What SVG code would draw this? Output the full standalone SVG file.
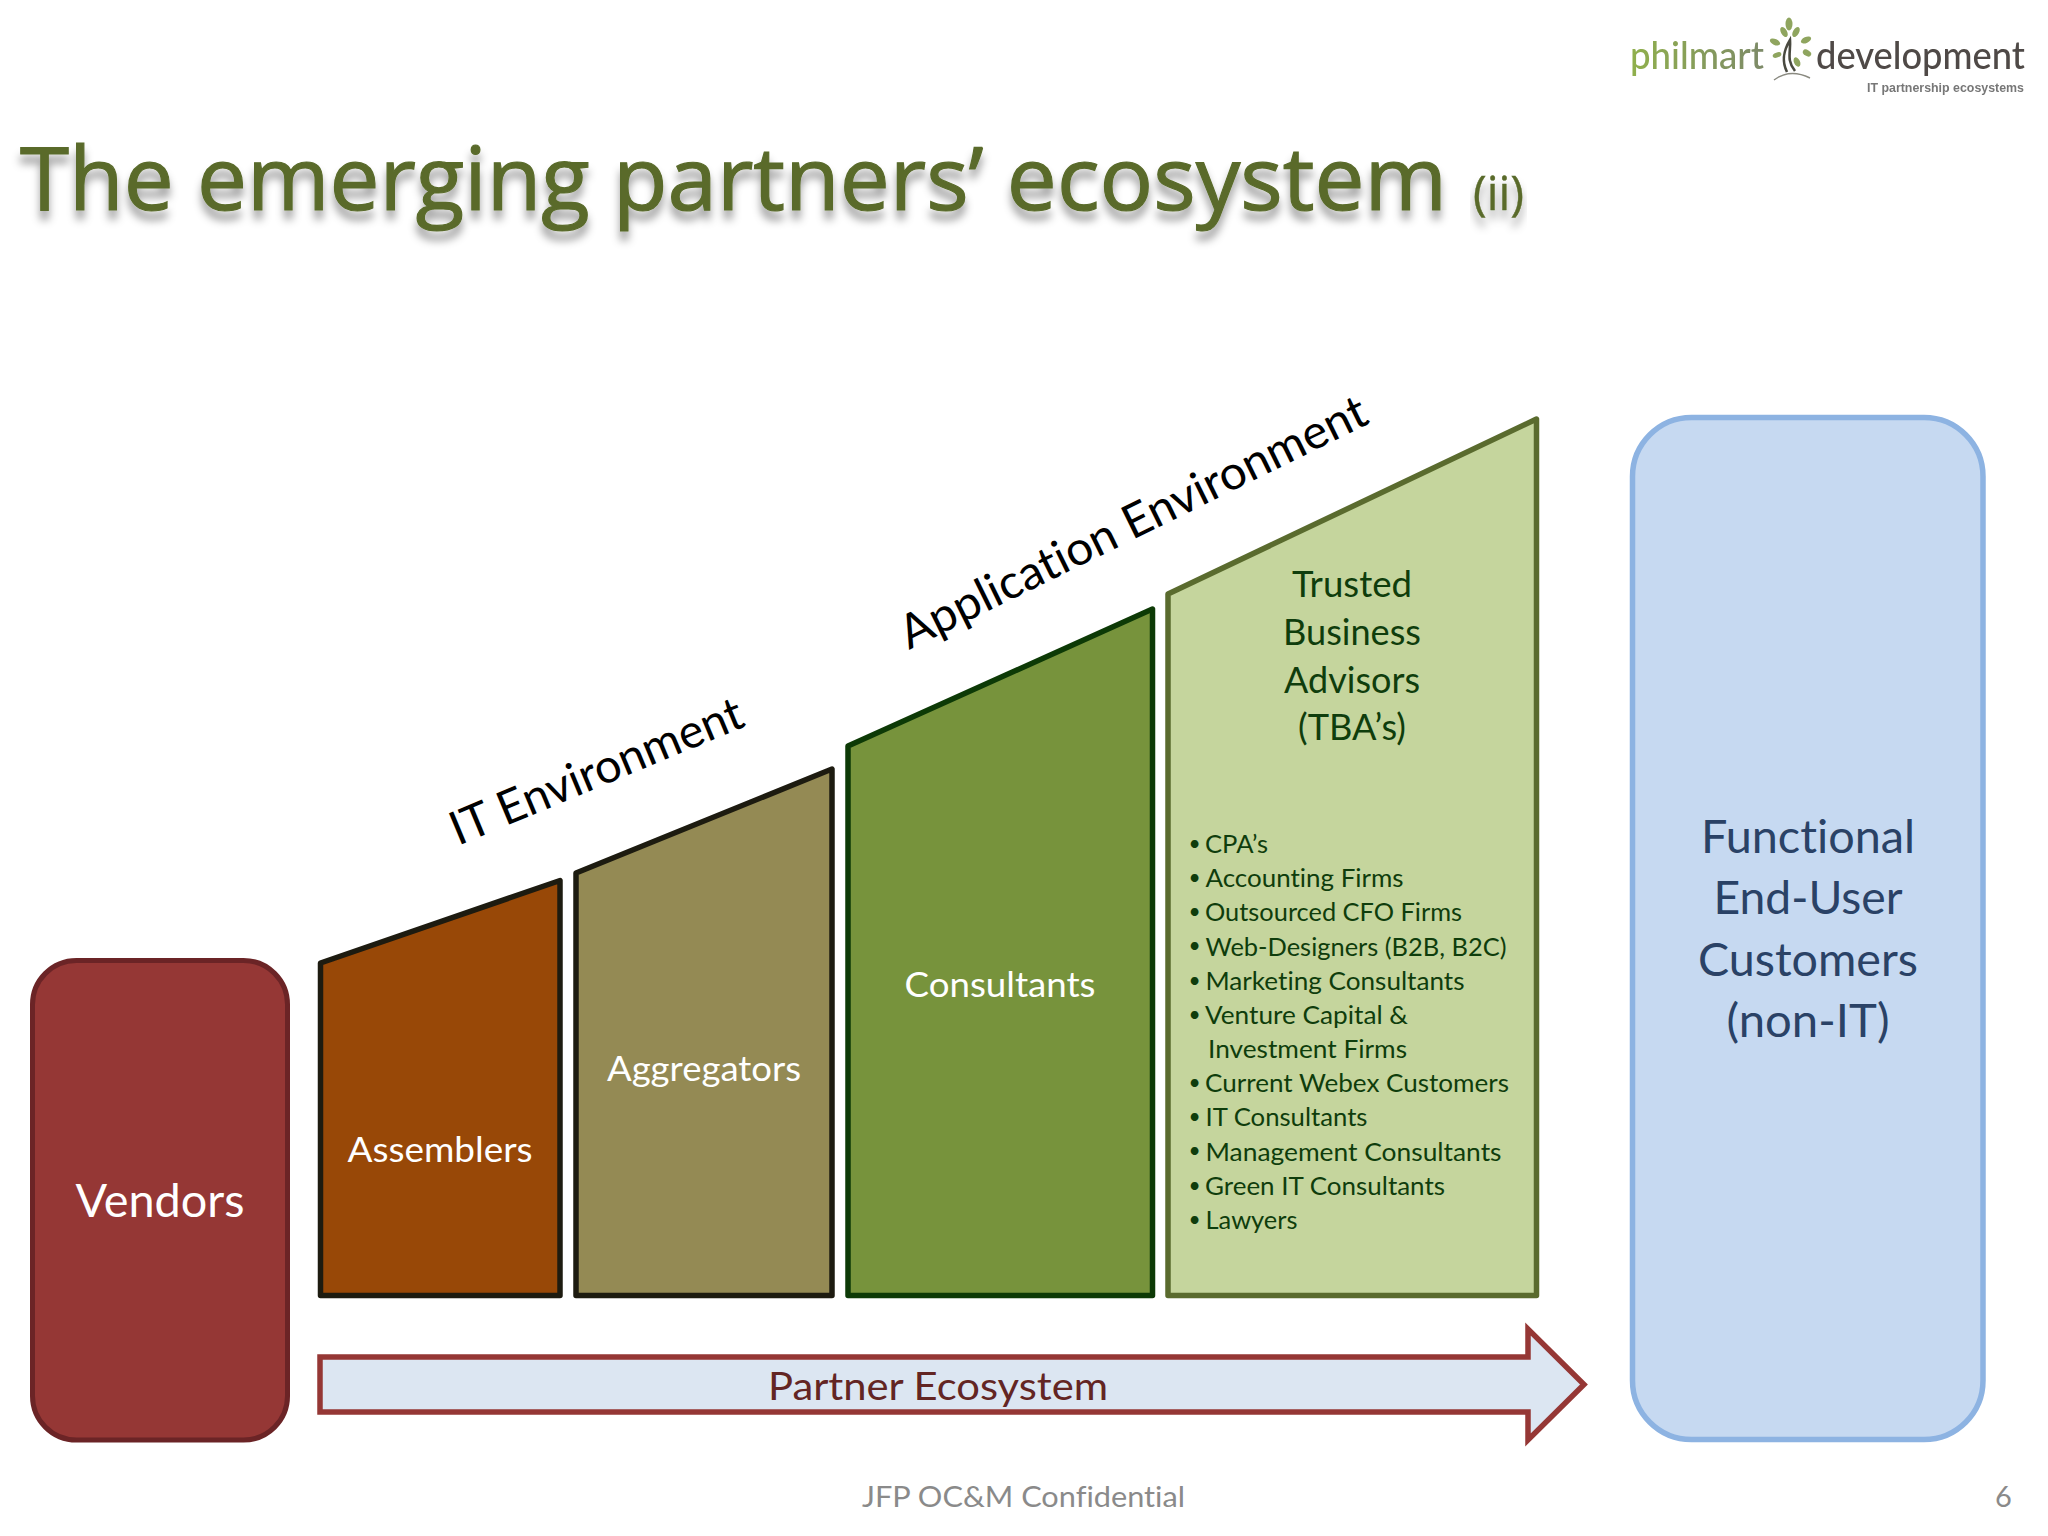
<svg xmlns="http://www.w3.org/2000/svg" width="2048" height="1536" viewBox="0 0 2048 1536">
<defs>
<filter id="titleShadow" x="-5%" y="-30%" width="110%" height="170%"><feDropShadow dx="0" dy="9" stdDeviation="4" flood-color="#000" flood-opacity="0.38"/></filter>
<filter id="soft" x="-5%" y="-5%" width="110%" height="110%"><feGaussianBlur stdDeviation="0.7"/></filter>
<linearGradient id="philGrad" x1="0" x2="1" y1="0" y2="0"><stop offset="0" stop-color="#90b04c"/><stop offset="1" stop-color="#7d8a68"/></linearGradient>
</defs>
<style>
text{font-family:"Lato","Carlito","Noto Sans",sans-serif;font-variant-ligatures:none}
.ttl{font-family:"Open Sans","Lato",sans-serif;fill:#5a6b2b;stroke:#5a6b2b;stroke-width:1.2px}
.w35{font-size:35px;fill:#fff;text-anchor:middle}
.tba{font-size:36px;fill:#0f3d0c;text-anchor:middle}
.li{font-size:25px;fill:#0f3d0c}
.bu{font-size:21px;fill:#0f3d0c}
.blue{font-size:46px;fill:#2a4266;text-anchor:middle}
.env{font-size:47px;fill:#000}
.foot{font-size:29px;fill:#8a8a8a}
.tr{stroke-width:5.5;stroke-linejoin:round}
.leaf{fill:#8fa55e}
</style>
<rect width="2048" height="1536" fill="#fff"/>

<g id="logo" filter="url(#soft)">
<text x="1630" y="69" font-size="38" font-weight="500" fill="url(#philGrad)" textLength="134" lengthAdjust="spacingAndGlyphs">philmart</text>
<text x="1816" y="69" font-size="38" font-weight="500" fill="#4f4a46" textLength="209" lengthAdjust="spacingAndGlyphs">development</text>
<text x="1867" y="92" font-size="13" font-weight="700" fill="#777" style="font-family:'Liberation Sans',sans-serif" textLength="157" lengthAdjust="spacingAndGlyphs">IT partnership ecosystems</text>
<path d="M1787 72C1781 60 1784 50 1790 40C1791 52 1786 60 1795 71" fill="none" stroke="#4a4a40" stroke-width="2.6"/>
<path d="M1774 80Q1790 68 1810 78" fill="none" stroke="#8a8a80" stroke-width="1.4"/>
<ellipse class="leaf" cx="1789" cy="24" rx="3.5" ry="6.5"/>
<ellipse class="leaf" cx="1784" cy="32" rx="3" ry="5.5" transform="rotate(-30 1784 32)"/>
<ellipse class="leaf" cx="1796" cy="32" rx="3" ry="5.5" transform="rotate(30 1796 32)"/>
<ellipse class="leaf" cx="1775" cy="42" rx="5.5" ry="3" transform="rotate(25 1775 42)"/>
<ellipse class="leaf" cx="1806" cy="40" rx="5.5" ry="3" transform="rotate(-25 1806 40)"/>
<ellipse class="leaf" cx="1777" cy="55" rx="4.5" ry="2.5" transform="rotate(-20 1777 55)"/>
<ellipse class="leaf" cx="1807" cy="53" rx="4.5" ry="3" transform="rotate(30 1807 53)"/>
<ellipse class="leaf" cx="1797" cy="62" rx="3" ry="5" transform="rotate(-25 1797 62)"/>
</g>

<g id="title">
<text class="ttl" x="20" y="210" font-size="88" filter="url(#titleShadow)" textLength="1427" lengthAdjust="spacingAndGlyphs">The emerging partners’ ecosystem</text>
<text class="ttl" x="1473" y="210" font-size="47" style="stroke-width:0.4px" filter="url(#titleShadow)" textLength="51" lengthAdjust="spacingAndGlyphs">(ii)</text>
</g>

<g id="vendors">
<rect x="32.5" y="960.5" width="255" height="479.5" rx="44" fill="#953735" stroke="#6b2426" stroke-width="5"/>
<text x="160" y="1217" font-size="46" fill="#fff" text-anchor="middle" textLength="169" lengthAdjust="spacingAndGlyphs">Vendors</text>
</g>

<g id="assemblers">
<path class="tr" d="M320.5 963L560 880.5V1295.5H320.5Z" fill="#984807" stroke="#1d1b10"/>
<text class="w35" x="440" y="1162" textLength="185" lengthAdjust="spacingAndGlyphs">Assemblers</text>
</g>

<g id="aggregators">
<path class="tr" d="M576 873L832 769V1295.5H576Z" fill="#948a54" stroke="#1d1b10"/>
<text class="w35" x="704" y="1081" textLength="194" lengthAdjust="spacingAndGlyphs">Aggregators</text>
</g>

<g id="consultants">
<path class="tr" d="M848 746L1152.5 609V1295.5H848Z" fill="#77933c" stroke="#0d3a06"/>
<text class="w35" x="1000" y="997" textLength="191" lengthAdjust="spacingAndGlyphs">Consultants</text>
</g>

<g id="tba">
<path class="tr" d="M1168 594L1536.5 419V1295.5H1168Z" fill="#c5d59d" stroke="#5a6b2e"/>
<text class="tba" x="1352" y="597" textLength="120" lengthAdjust="spacingAndGlyphs">Trusted</text>
<text class="tba" x="1352" y="645" textLength="138" lengthAdjust="spacingAndGlyphs">Business</text>
<text class="tba" x="1352" y="693" textLength="136" lengthAdjust="spacingAndGlyphs">Advisors</text>
<text class="tba" x="1352" y="740" textLength="108" lengthAdjust="spacingAndGlyphs">(TBA’s)</text>
<g id="tba-list">
<text class="bu" x="1188.5" y="850.5">•</text><text class="li" x="1205" y="853" textLength="63" lengthAdjust="spacingAndGlyphs">CPA’s</text>
<text class="bu" x="1188.5" y="884.9">•</text><text class="li" x="1205.5" y="887.4" textLength="198" lengthAdjust="spacingAndGlyphs">Accounting Firms</text>
<text class="bu" x="1188.5" y="918.9">•</text><text class="li" x="1205" y="921.4" textLength="257" lengthAdjust="spacingAndGlyphs">Outsourced CFO Firms</text>
<text class="bu" x="1188.5" y="953.2">•</text><text class="li" x="1205.5" y="955.7" textLength="301" lengthAdjust="spacingAndGlyphs">Web-Designers (B2B, B2C)</text>
<text class="bu" x="1188.5" y="987.5">•</text><text class="li" x="1205.5" y="990" textLength="259" lengthAdjust="spacingAndGlyphs">Marketing Consultants</text>
<text class="bu" x="1188.5" y="1021.5">•</text><text class="li" x="1205" y="1024" textLength="203" lengthAdjust="spacingAndGlyphs">Venture Capital &amp;</text>
<text class="li" x="1208" y="1058.4" textLength="199" lengthAdjust="spacingAndGlyphs">Investment Firms</text>
<text class="bu" x="1188.5" y="1089.9">•</text><text class="li" x="1205" y="1092.4" textLength="304" lengthAdjust="spacingAndGlyphs">Current Webex Customers</text>
<text class="bu" x="1188.5" y="1123.9">•</text><text class="li" x="1205.5" y="1126.4" textLength="162" lengthAdjust="spacingAndGlyphs">IT Consultants</text>
<text class="bu" x="1188.5" y="1158.2">•</text><text class="li" x="1205.5" y="1160.7" textLength="296" lengthAdjust="spacingAndGlyphs">Management Consultants</text>
<text class="bu" x="1188.5" y="1192.5">•</text><text class="li" x="1205" y="1195" textLength="240" lengthAdjust="spacingAndGlyphs">Green IT Consultants</text>
<text class="bu" x="1188.5" y="1226.5">•</text><text class="li" x="1205.5" y="1229" textLength="92" lengthAdjust="spacingAndGlyphs">Lawyers</text>
</g>
</g>

<g id="customers">
<rect x="1632.5" y="417.5" width="350.5" height="1022" rx="59" fill="#c6d9f1" stroke="#8db3e2" stroke-width="5.5"/>
<text class="blue" x="1808" y="853" textLength="214" lengthAdjust="spacingAndGlyphs">Functional</text>
<text class="blue" x="1808" y="914" textLength="189" lengthAdjust="spacingAndGlyphs">End-User</text>
<text class="blue" x="1808" y="976" textLength="220" lengthAdjust="spacingAndGlyphs">Customers</text>
<text class="blue" x="1808" y="1037" textLength="163" lengthAdjust="spacingAndGlyphs">(non-IT)</text>
</g>

<g id="env-labels">
<text class="env" transform="translate(458 846) rotate(-22.6)" textLength="313" lengthAdjust="spacingAndGlyphs">IT Environment</text>
<text class="env" transform="translate(909 650) rotate(-26.2)" textLength="515" lengthAdjust="spacingAndGlyphs">Application Environment</text>
</g>

<g id="connectors">
<path d="M320 1357H1528V1329L1584 1384.5L1528 1440V1412H320Z" fill="#dce6f2" stroke="#953735" stroke-width="5.5" stroke-miterlimit="8"/>
</g>
<g id="partner-ecosystem-label">
<text x="938" y="1400" font-size="39" fill="#632523" text-anchor="middle" textLength="340" lengthAdjust="spacingAndGlyphs">Partner Ecosystem</text>
</g>

<g id="footer">
<text class="foot" x="862" y="1507" textLength="323" lengthAdjust="spacingAndGlyphs">JFP OC&amp;M Confidential</text>
<text class="foot" x="1995" y="1507">6</text>
</g>
</svg>
